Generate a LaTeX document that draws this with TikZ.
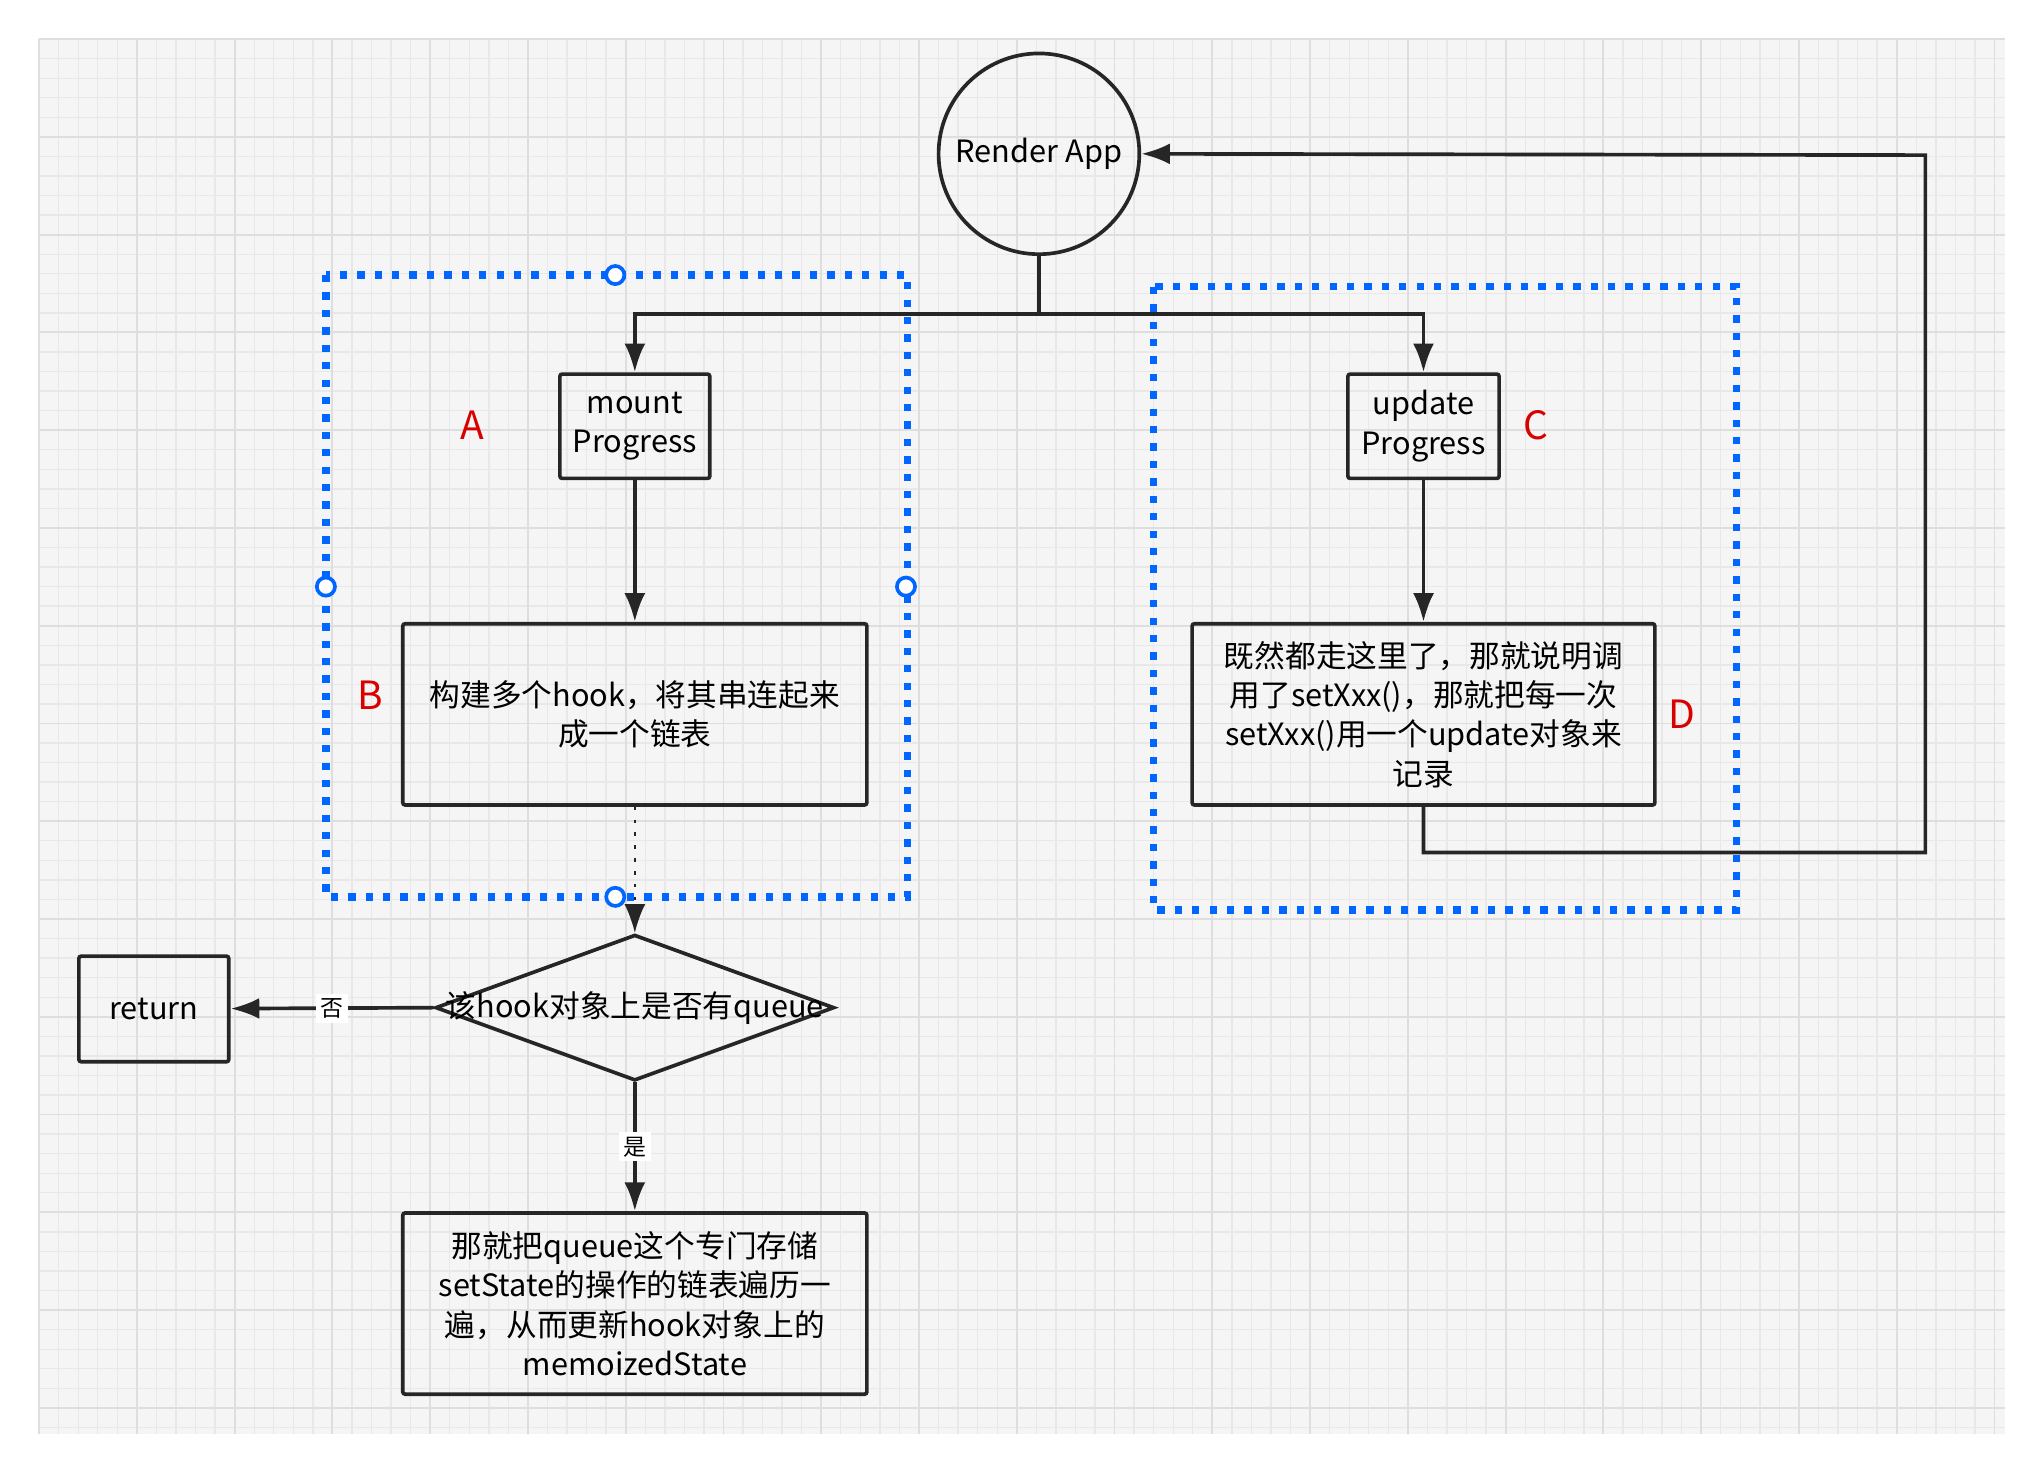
\documentclass[tikz,border=0pt]{standalone}
\usepackage{fontspec}
\setmainfont{Noto Sans CJK SC}
\usetikzlibrary{positioning,arrows.meta,shapes.geometric}
\tikzset{
  box/.style={draw=black!85,thick,rounded corners=0.5pt,align=center,inner sep=2pt},
  flow/.style={draw=black!85,thick,-{Latex[length=2.2mm,width=1.6mm]}},
  zone/.style={draw=blue!60!cyan,line width=1.6pt,dash pattern=on 1.6pt off 2.2pt},
  handle/.style={circle,draw=blue!60!cyan,fill=white,thick,inner sep=1.4pt},
  tag/.style={text=red!85!black,font=\fontsize{8.5}{10}\selectfont},
  edgelbl/.style={fill=white,inner sep=1pt,font=\fontsize{5}{6}\selectfont}
}
\begin{document}
\begin{tikzpicture}[x=0.1mm,y=-0.1mm,every node/.style={font=\fontsize{6.7}{8.6}\selectfont}]
\useasboundingbox (0,0) rectangle (1568,1131);
% grid background
\fill[white] (0,0) rectangle (1568,1131);
\fill[black!4] (30,30) rectangle (1538,1100);
\foreach \g in {30,45,...,1538} \draw[black!9,line width=0.3pt] (\g,30) -- (\g,1100);
\foreach \g in {30,45,...,1100} \draw[black!9,line width=0.3pt] (30,\g) -- (1538,\g);
\foreach \g in {30,105,...,1538} \draw[black!13,line width=0.4pt] (\g,30) -- (\g,1100);
\foreach \g in {30,105,...,1100} \draw[black!13,line width=0.4pt] (30,\g) -- (1538,\g);

% dashed zones
\draw[zone] (250,211) rectangle (696,688);
\draw[zone] (885,220) rectangle (1332,698);

% nodes
\node[circle,draw=black!85,thick,inner sep=0pt,minimum size=154*0.1mm] (app) at (797,118) {Render App};
\node[box,minimum width=115*0.1mm,minimum height=80*0.1mm] (mount) at (487,327) {mount\\Progress};
\node[box,minimum width=356*0.1mm,minimum height=139*0.1mm] (hooks) at (487,548) {构建多个hook，将其串连起来\\成一个链表};
\node[box,minimum width=116*0.1mm,minimum height=80*0.1mm] (update) at (1092,327) {update\\Progress};
\node[box,minimum width=355*0.1mm,minimum height=139*0.1mm] (record) at (1092,548) {既然都走这里了，那就说明调\\用了setXxx()，那就把每一次\\setXxx()用一个update对象来\\记录};
\node[diamond,draw=black!85,thick,aspect=2.73,minimum width=306*0.1mm,minimum height=112*0.1mm,inner sep=0pt] (queue) at (487,773) {};
\node (queuetxt) at (queue.center) {该hook对象上是否有queue};
\node[box,minimum width=115*0.1mm,minimum height=81*0.1mm] (ret) at (118,774) {return};
\node[box,minimum width=356*0.1mm,minimum height=139*0.1mm] (walk) at (487,1000) {那就把queue这个专门存储\\setState的操作的链表遍历一\\遍，从而更新hook对象上的\\memoizedState};

% tags
\node[tag] (tagA) at (362,326) {A};
\node[tag] (tagB) at (284,533) {B};
\node[tag] (tagC) at (1178,326) {C};
\node[tag] (tagD) at (1290,548) {D};

% connectors
\coordinate (fork) at (797,241);
\draw[thick,draw=black!85] (app.south) -- (fork);
\draw[flow] (fork) -| (mount.north);
\draw[flow] (fork) -| (update.north);
\draw[flow] (mount) -- (hooks);
\draw[flow] (update) -- (record);
\draw[flow,dotted,thin] (hooks) -- (queue.north);
\draw[flow] (queue.west) -- node[edgelbl,pos=0.5] {否} (ret);
\draw[flow] (queue.south) -- node[edgelbl,pos=0.5] {是} (walk);
\coordinate (loopa) at (1092,654);
\coordinate (loopb) at (1477,654);
\coordinate (loopc) at (1477,119);
\draw[flow] (record.south) -- (loopa) -- (loopb) -- (loopc) -- (app.east);

% selection handles
\node[handle] (h1) at (472,211) {};
\node[handle] (h2) at (250,450) {};
\node[handle] (h3) at (695,450) {};
\node[handle] (h4) at (472,688) {};
\end{tikzpicture}
\end{document}
